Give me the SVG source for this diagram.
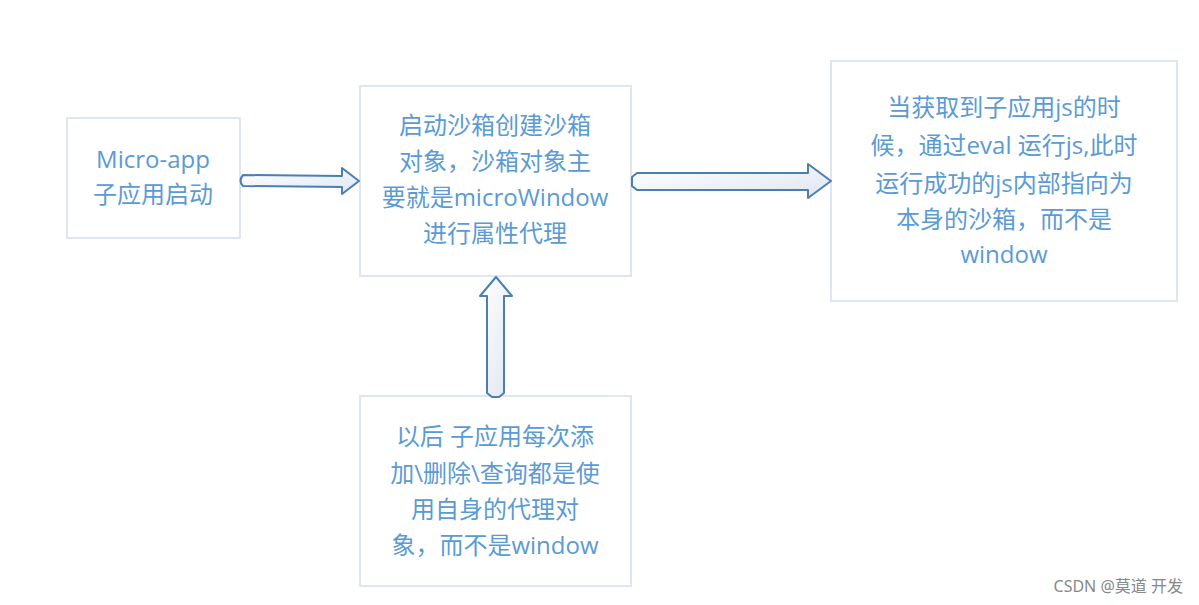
<svg xmlns="http://www.w3.org/2000/svg" width="1199" height="605" viewBox="0 0 1199 605">
<style>
.box{fill:#fff;stroke:#dfe6f1;stroke-width:2}
.t{font-family:"Open Sans","Noto Sans CJK SC",sans-serif;font-size:24px;fill:#5b9bd5;text-anchor:middle}
.arr{fill:url(#g);stroke:#4a7fb5;stroke-width:2;stroke-linejoin:round}
.wm{font-family:"Noto Sans","Noto Sans CJK SC",sans-serif;font-size:16px;fill:#888}
</style>
<defs><linearGradient id="g" x1="0" y1="0" x2="1" y2="1"><stop offset="0" stop-color="#ffffff"/><stop offset="1" stop-color="#dfe6f2"/></linearGradient></defs>
<rect width="1199" height="605" fill="#fff"/>
<g id="n1"><rect class="box" x="67" y="118" width="173" height="120"/>
<text class="t" x="153" y="168">Micro-app</text><text class="t" x="153" y="203">子应用启动</text></g>
<g id="n2"><rect class="box" x="360" y="86" width="271" height="190"/>
<text class="t" x="495" y="134">启动沙箱创建沙箱</text><text class="t" x="495" y="170">对象，沙箱对象主</text><text class="t" x="495" y="206">要就是microWindow</text><text class="t" x="495" y="242">进行属性代理</text></g>
<g id="n3"><rect class="box" x="831" y="61" width="346" height="240"/>
<text class="t" x="1004" y="116">当获取到子应用js的时</text><text class="t" x="1004" y="154">候，通过eval 运行js,此时</text><text class="t" x="1004" y="192">运行成功的js内部指向为</text><text class="t" x="1004" y="228">本身的沙箱，而不是</text><text class="t" x="1004" y="263">window</text></g>
<g id="n4"><rect class="box" x="360" y="396" width="271" height="190"/>
<text class="t" x="495" y="445">以后 子应用每次添</text><text class="t" x="495" y="482">加\删除\查询都是使</text><text class="t" x="495" y="518">用自身的代理对</text><text class="t" x="495" y="554">象，而不是window</text></g>
<g id="connectors">
<path class="arr" d="M243,175 L342,176 L342,168 L359,181 L342,194 L342,187 L243,186 Q238,181 243,175 Z"/>
<path class="arr" d="M637,173 L808,173 L808,164 L831,181 L808,198 L808,190 L637,190 L632,186 L632,177 Z"/>
<path class="arr" d="M487,393 L487,296 L480,296 L496,277 L512,296 L504,296 L504,393 L499,397 L492,397 Z"/>
</g>
<text class="wm" x="1183" y="592" text-anchor="end">CSDN @莫道 开发</text>
</svg>
